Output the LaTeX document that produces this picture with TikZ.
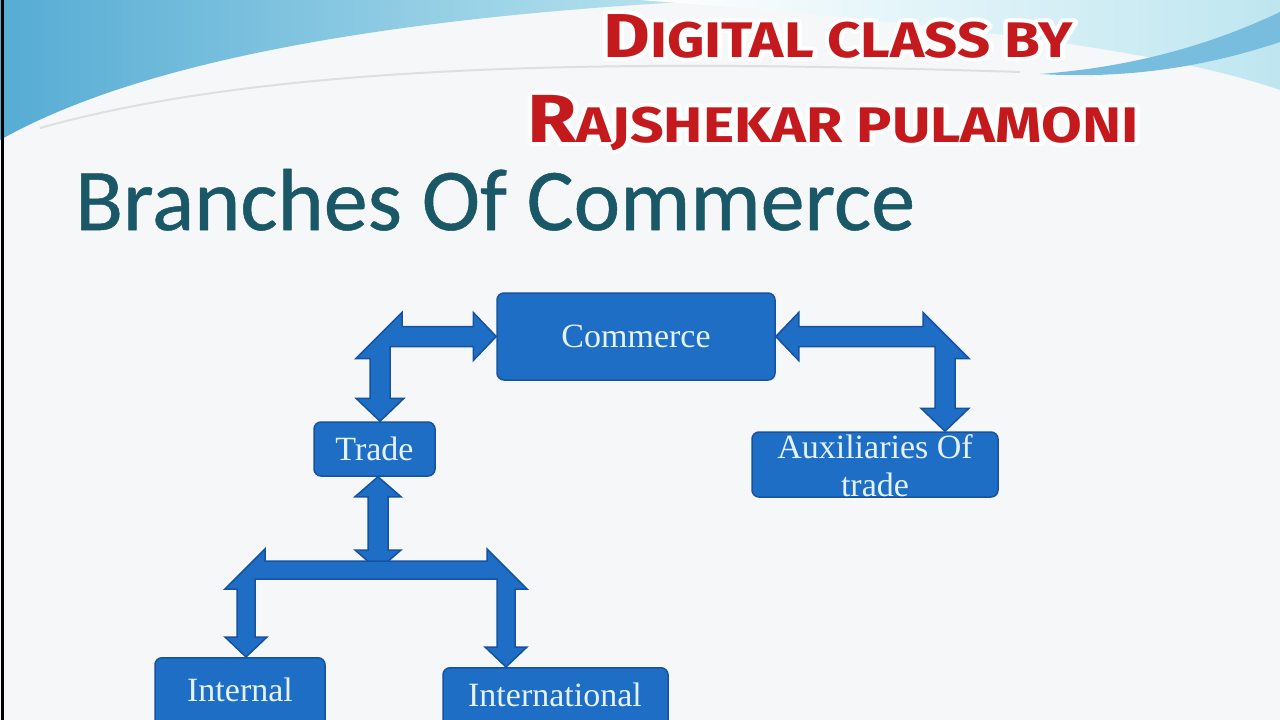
\documentclass[tikz,border=0pt]{standalone}
\usepackage{fontspec}
\usepackage{graphicx}
\setmainfont{Liberation Serif}
\newfontfamily\titlefont{Carlito}[FakeBold=0.6]
\newfontfamily\signfont{Fira Sans}
\usetikzlibrary{calc,positioning}

\definecolor{pagebg}{RGB}{245,247,248}
\definecolor{wavedark}{RGB}{86,172,212}
\definecolor{wavelight}{RGB}{190,230,240}
\definecolor{boxblue}{RGB}{31,110,197}
\definecolor{boxedge}{RGB}{22,82,160}
\definecolor{boxtext}{RGB}{228,242,252}
\definecolor{titleteal}{RGB}{26,88,104}
\definecolor{signred}{RGB}{196,26,30}

\tikzset{
  box/.style={draw=boxedge, fill=boxblue, line width=1.5pt, rounded corners=7pt, text=boxtext, font=\fontsize{34}{38}\selectfont, inner sep=0pt},
  boxtext/.style={text=boxtext, font=\fontsize{34}{38}\selectfont, inner sep=0pt},
  arrowshape/.style={draw=boxedge, fill=boxblue, line width=1.5pt, line join=miter},
  signtext/.style={anchor=base west, inner sep=0pt, text=signred, font=\signfont\bfseries\fontsize{50}{50}\selectfont},
}
% bent double arrow: #1 corner, #2 tip of the level part, #3 tip of the downward part, #4 side of #2 (1 or -1)
\newcommand{\elbow}[4]{\draw[arrowshape] (#2) -- ($(#2)+(#4*-\hl,-\hh)$) -- ($(#2)+(#4*-\hl,-\sh)$) -- ($(#1)+(#4*\wa,-\sh)$) -- ($(#1)+(#4*\wa,-\hh)$) -- ($(#1)+(#4*-\hh,\wa)$) -- ($(#1)+(#4*-\sh,\wa)$) -- ($(#3)+(#4*-\sh,-\hl)$) -- ($(#3)+(#4*-\hh,-\hl)$) -- (#3) -- ($(#3)+(#4*\hh,-\hl)$) -- ($(#3)+(#4*\sh,-\hl)$) -- ($(#1)+(#4*\sh,\sh)$) -- ($(#2)+(#4*-\hl,\sh)$) -- ($(#2)+(#4*-\hl,\hh)$) -- cycle;}
% straight double arrow, #1 above #2
\newcommand{\updown}[2]{\draw[arrowshape] (#1) -- ($(#1)+(\hh,\hl)$) -- ($(#1)+(\sh,\hl)$) -- ($(#2)+(\sh,-\hl)$) -- ($(#2)+(\hh,-\hl)$) -- (#2) -- ($(#2)+(-\hh,-\hl)$) -- ($(#2)+(-\sh,-\hl)$) -- ($(#1)+(-\sh,\hl)$) -- ($(#1)+(-\hh,\hl)$) -- cycle;}
% white rim under the red letters (stroke only)
\newcommand{\rim}[1]{\special{pdf:literal q 1 1 1 RG 8 w 1 j 1 Tr}#1\special{pdf:literal 0 Tr Q}}
\newcommand{\signone}{\scalebox{1.16}[1]{{\fontsize{62}{62}\selectfont D}IGITAL CLASS BY}}
\newcommand{\signtwo}{\scalebox{1.18}[1]{{\fontsize{68}{68}\selectfont R}AJSHEKAR PULAMONI}}

\begin{document}
\begin{tikzpicture}[x=1pt, y=-1pt, line join=round]
	\useasboundingbox (0,0) rectangle (1280,720);
	% background and top wave
	\fill[pagebg] (0,0) rectangle (1280,720);
	\shade[left color=wavedark, right color=wavelight] (0,0) -- (720,0) .. controls (420,15) and (150,55) .. (0,140) -- cycle;
	\shade[left color=white, right color=wavelight] (640,0) -- (1280,0) -- (1280,90) .. controls (1150,45) and (900,20) .. (640,0) -- cycle;
	\fill[wavedark!80] (1280,12) .. controls (1200,50) and (1120,68) .. (1040,74) .. controls (1140,80) and (1220,62) .. (1280,42) -- cycle;
	\draw[gray!25, line width=2pt] (40,128) .. controls (300,55) and (700,62) .. (1020,72);
	\draw[line width=3pt] (2,0) -- (2,720);
	% heading and channel name
	\node[anchor=base west, inner sep=0pt, text=titleteal, font=\titlefont\fontsize{88}{90}\selectfont] (title) at (75,230) {Branches Of Commerce};
	\node[signtext, text=white] (sign1rim) at (603,57) {\rim{\signone}};
	\node[signtext, text=white] (sign2rim) at (527,142) {\rim{\signtwo}};
	\node[signtext] (sign1) at (603,57) {\signone};
	\node[signtext] (sign2) at (527,142) {\signtwo};
	% boxes
	\node[box, minimum width=278pt, minimum height=87pt] (commerce) at (636,336.5) {Commerce};
	\node[box, minimum width=121pt, minimum height=54pt] (trade) at (374.5,449) {Trade};
	\node[box, minimum width=246pt, minimum height=65pt] (aux) at (875,464.5) {};
	\node[box, minimum width=170pt, minimum height=83pt, anchor=north] (internal) at (240,657) {};
	\node[box, minimum width=225pt, minimum height=80pt, anchor=north] (international) at (555.5,667) {};
	% corners of the arrows
	\coordinate (cl) at (380,336.5);
	\coordinate (cr) at (945,336.5);
	\coordinate (bm) at (378,570);
	\coordinate (bl) at (246,570);
	\coordinate (br) at (506,570);
	\def\sh{10} \def\hh{24} \def\hl{23} \def\wa{22}
	\elbow{cl}{commerce.west}{cl |- trade.north}{1}
	\elbow{cr}{commerce.east}{cr |- aux.north}{-1}
	\def\sh{10} \def\hh{23} \def\hl{20} \def\wa{20}
	\updown{bm |- trade.south}{bm}
	\def\sh{9} \def\hh{21} \def\hl{20} \def\wa{19}
	\draw[arrowshape] ($(bl)+(\wa,-\hh)$) -- ($(bl)+(\wa,-\sh)$) -- ($(br)+(-\wa,-\sh)$) -- ($(br)+(-\wa,-\hh)$) -- ($(br)+(\hh,\wa)$) -- ($(br)+(\sh,\wa)$)
		-- ($(br |- international.north)+(\sh,-\hl)$) -- ($(br |- international.north)+(\hh,-\hl)$) -- (br |- international.north) -- ($(br |- international.north)+(-\hh,-\hl)$) -- ($(br |- international.north)+(-\sh,-\hl)$)
		-- ($(br)+(-\sh,\sh)$) -- ($(bl)+(\sh,\sh)$)
		-- ($(bl |- internal.north)+(\sh,-\hl)$) -- ($(bl |- internal.north)+(\hh,-\hl)$) -- (bl |- internal.north) -- ($(bl |- internal.north)+(-\hh,-\hl)$) -- ($(bl |- internal.north)+(-\sh,-\hl)$)
		-- ($(bl)+(-\sh,\wa)$) -- ($(bl)+(-\hh,\wa)$) -- cycle;
	% labels
	\node[boxtext, align=center] (auxtext) at (875,466) {Auxiliaries Of\\trade};
	\node[boxtext] (internaltext) at (240,690) {Internal};
	\node[boxtext] (internationaltext) at (555,695) {International};
\end{tikzpicture}
\end{document}
